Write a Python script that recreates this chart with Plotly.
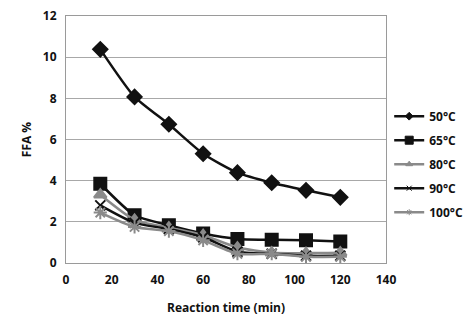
import plotly.graph_objects as go

time_min = [15, 30, 45, 60, 75, 90, 105, 120]
ffa_50 = [10.38, 8.07, 6.74, 5.31, 4.39, 3.9, 3.53, 3.19]
ffa_65 = [3.85, 2.32, 1.83, 1.43, 1.17, 1.13, 1.1, 1.05]
ffa_80 = [3.32, 2.1, 1.72, 1.35, 0.75, 0.5, 0.48, 0.5]
ffa_90 = [2.8, 1.95, 1.65, 1.25, 0.55, 0.45, 0.35, 0.35]
ffa_100 = [2.45, 1.75, 1.55, 1.1, 0.45, 0.45, 0.3, 0.3]

series = [
    ("50°C", ffa_50, "#111111", "diamond", 11, 6),
    ("65°C", ffa_65, "#111111", "square", 12, 8),
    ("80°C", ffa_80, "#8a8a8a", "triangle-up", 11, 6),
    ("90°C", ffa_90, "#111111", "x-thin-open", 10, 5),
    ("100°C", ffa_100, "#8a8a8a", "asterisk-open", 11, 5),
]

fig = go.Figure()
for i, (name, vals, color, sym, size, lsize) in enumerate(series):
    fig.add_trace(go.Scatter(
        x=time_min, y=vals, name=name, mode="lines+markers",
        line=dict(color=color, width=2.5, shape="spline", smoothing=0.6),
        marker=dict(symbol=sym, size=size, color=color,
                    line=dict(color=color, width=2)),
        legendgroup=str(i), showlegend=False,
    ))
for i, (name, vals, color, sym, size, lsize) in enumerate(series):
    fig.add_trace(go.Scatter(
        x=[None], y=[None], name=name, mode="lines+markers",
        line=dict(color=color, width=2.5),
        marker=dict(symbol=sym, size=lsize, color=color,
                    line=dict(color=color, width=1)),
        legendgroup=str(i), showlegend=True,
    ))

font_family = "Open Sans, Liberation Sans, sans-serif"
fig.update_layout(
    width=474, height=328,
    margin=dict(l=66, r=88, t=16, b=65, autoexpand=False),
    paper_bgcolor="white", plot_bgcolor="white",
    font=dict(family=font_family, size=12, color="#111111"),
    showlegend=True,
    legend=dict(x=1.01, y=0.40, xanchor="left", yanchor="middle",
                font=dict(size=12, family=font_family, color="#111111", weight="bold"),
                tracegroupgap=5, bgcolor="rgba(0,0,0,0)"),
    xaxis=dict(range=[0, 140], dtick=20, tick0=0, showgrid=False,
               showline=True, linecolor="#9a9a9a", linewidth=1, mirror=True,
               ticks="", zeroline=False, ticklabelstandoff=6,
               tickfont=dict(size=12, weight="bold", color="#111111"),
               title=dict(text="Reaction time (min)", standoff=16,
                          font=dict(size=12, weight="bold", color="#111111"))),
    yaxis=dict(range=[0, 12], dtick=2, tick0=0, showgrid=True, gridcolor="#a8a8a8",
               gridwidth=1, showline=True, linecolor="#9a9a9a", linewidth=1,
               mirror=True, ticks="", zeroline=False, ticklabelstandoff=6,
               tickfont=dict(size=12, weight="bold", color="#111111"),
               title=dict(text="FFA %", standoff=8,
                          font=dict(size=12, weight="bold", color="#111111"))),
)

fig.write_html("out.html")
